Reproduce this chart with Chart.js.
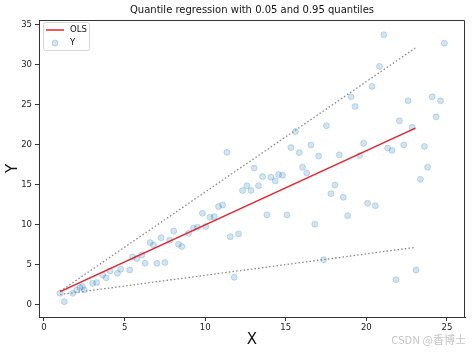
<!DOCTYPE html>
<html>
<head>
<meta charset="utf-8">
<script src="https://cdn.jsdelivr.net/npm/chart.js@4.4.0/dist/chart.umd.min.js"></script>
<style>
  html, body { margin: 0; padding: 0; background: #fff; }
  #wrap { width: 474px; height: 353px; }
</style>
</head>
<body>
<div id="wrap"><canvas id="qr"></canvas></div>
<script>
// scatter data (x, y)
const pointsX = [1.0, 1.26, 1.78, 2.03, 2.24, 2.38, 2.5, 3.02, 3.27, 3.64, 3.85, 4.1, 4.55, 4.76,
  5.32, 5.5, 5.76, 6.07, 6.27, 6.58, 6.79, 7.0, 7.27, 7.5, 7.8, 8.05, 8.34, 8.55, 8.97, 9.27,
  9.52, 9.83, 10.04, 10.3, 10.56, 10.83, 11.08, 11.35, 11.55, 11.8, 12.07, 12.32, 12.59, 12.84,
  13.04, 13.31, 13.56, 13.83, 14.08, 14.35, 14.55, 14.8, 15.07, 15.32, 15.6, 15.84, 16.04, 16.3,
  16.56, 16.8, 17.04, 17.35, 17.52, 17.8, 18.05, 18.32, 18.57, 18.84, 19.05, 19.3, 19.58, 19.83,
  20.08, 20.35, 20.56, 20.81, 21.08, 21.32, 21.59, 21.84, 22.05, 22.32, 22.59, 22.84, 23.08,
  23.35, 23.6, 23.8, 24.08, 24.33, 24.6, 24.84];
const pointsY = [1.46, 0.41, 1.46, 1.87, 2.17, 2.3, 1.87, 2.7, 2.8, 3.75, 3.4, 4.25, 3.95, 4.46,
  4.37, 6.0, 5.8, 6.25, 5.2, 7.8, 7.5, 5.2, 8.4, 5.3, 8.1, 9.25, 7.6, 7.3, 8.96, 9.6,
  9.7, 11.46, 9.8, 10.96, 11.04, 12.3, 12.5, 19.08, 8.54, 3.46, 8.88, 14.3, 14.9, 14.3,
  17.1, 14.9, 16.04, 11.25, 15.96, 15.5, 16.3, 16.2, 11.25, 19.66, 21.67, 19.04, 17.2, 16.5,
  20.0, 10.1, 18.6, 5.66, 22.4, 13.9, 15.0, 18.75, 13.46, 11.16, 26.0, 24.8, 18.66, 20.2,
  12.7, 27.3, 12.4, 29.8, 33.75, 19.6, 19.3, 3.16, 23.0, 20.0, 25.5, 22.2, 4.37,
  15.7, 19.8, 17.2, 26.0, 23.5, 25.5, 32.7];

// fitted lines (end points)
const lineX = [1, 23.04];
const olsY = [1.67, 22.1];
const q05Y = [1.3, 7.2];
const q95Y = [1.7, 32.1];

const xTicks = [0, 5, 10, 15, 20, 25];
const yTicks = [0, 5, 10, 15, 20, 25, 30, 35];

const titleText = 'Quantile regression with 0.05 and 0.95 quantiles';

const zip = (xs, ys) => xs.map((x, i) => ({ x: x, y: ys[i] }));

// title, frame, inside legend, watermark
const decor = {
  id: 'decor',
  afterDraw(chart) {
    const c = chart.ctx;
    const a = chart.chartArea;
    c.save();
    // frame top / right
    c.strokeStyle = '#333';
    c.lineWidth = 1;
    c.beginPath();
    c.moveTo(a.left, a.top + 0.5);
    c.lineTo(a.right - 0.5, a.top + 0.5);
    c.lineTo(a.right - 0.5, a.bottom);
    c.stroke();

    // title
    c.fillStyle = '#111';
    c.font = '10px "DejaVu Sans"';
    c.textAlign = 'center';
    c.textBaseline = 'middle';
    c.fillText(titleText, (a.left + a.right) / 2, 10);

    // legend box
    const bx = a.left + 4, by = a.top + 2, bw = 46, bh = 28;
    c.fillStyle = 'rgba(255,255,255,0.8)';
    c.strokeStyle = '#d6d6d6';
    c.beginPath();
    c.roundRect(bx + 0.5, by + 0.5, bw, bh, 2);
    c.fill();
    c.stroke();
    const ols = chart.data.datasets[0];
    c.strokeStyle = ols.borderColor;
    c.lineWidth = 1.5;
    c.beginPath();
    c.moveTo(bx + 3, by + 8);
    c.lineTo(bx + 21, by + 8);
    c.stroke();
    const pts = chart.data.datasets[3];
    c.fillStyle = pts.backgroundColor;
    c.strokeStyle = pts.borderColor;
    c.lineWidth = 1;
    c.beginPath();
    c.arc(bx + 12, by + 21, 3, 0, Math.PI * 2);
    c.fill();
    c.stroke();
    c.fillStyle = '#111';
    c.font = '8.5px "DejaVu Sans"';
    c.textAlign = 'left';
    c.fillText('OLS', bx + 27, by + 8);
    c.fillText('Y', bx + 27, by + 21);

    // watermark
    c.fillStyle = 'rgba(150,150,150,0.55)';
    c.font = '11px "Noto Sans CJK SC"';
    c.textAlign = 'right';
    c.fillText('CSDN @香博士', 466, 340);
    c.restore();
  }
};

new Chart(document.getElementById('qr'), {
  type: 'scatter',
  data: {
    datasets: [
      {
        label: 'OLS',
        type: 'line',
        data: zip(lineX, olsY),
        borderColor: '#e8202a',
        borderWidth: 1.5,
        pointRadius: 0,
        order: 1
      },
      {
        label: 'q0.05',
        type: 'line',
        data: zip(lineX, q05Y),
        borderColor: '#888',
        borderWidth: 1.3,
        borderDash: [1.5, 2.2],
        pointRadius: 0,
        order: 2
      },
      {
        label: 'q0.95',
        type: 'line',
        data: zip(lineX, q95Y),
        borderColor: '#888',
        borderWidth: 1.3,
        borderDash: [1.5, 2.2],
        pointRadius: 0,
        order: 3
      },
      {
        label: 'Y',
        data: zip(pointsX, pointsY),
        backgroundColor: 'rgba(31,119,180,0.2)',
        borderColor: 'rgba(31,119,180,0.22)',
        borderWidth: 1,
        pointRadius: 3,
        order: 4
      }
    ]
  },
  options: {
    responsive: true,
    maintainAspectRatio: false,
    animation: false,
    layout: { padding: { top: 20, right: 9, left: 0, bottom: 0 } },
    plugins: {
      legend: { display: false },
      tooltip: { enabled: false }
    },
    scales: {
      x: {
        type: 'linear',
        min: -0.31,
        max: 26.12,
        afterFit(s) { s.height = 36; },
        afterBuildTicks(s) { s.ticks = xTicks.map(v => ({ value: v })); },
        grid: { drawOnChartArea: false, tickLength: 4, color: '#333' },
        border: { color: '#333', width: 1 },
        ticks: { padding: 2, color: '#222', font: { family: 'DejaVu Sans', size: 8.5 } },
        title: { display: true, text: 'X', color: '#111', font: { family: 'DejaVu Sans', size: 15 } }
      },
      y: {
        type: 'linear',
        min: -1.5,
        max: 35.6,
        afterFit(s) { s.width = 39; },
        afterBuildTicks(s) { s.ticks = yTicks.map(v => ({ value: v })); },
        grid: { drawOnChartArea: false, tickLength: 4, color: '#333' },
        border: { color: '#333', width: 1 },
        ticks: { padding: 3, color: '#222', font: { family: 'DejaVu Sans', size: 8.5 } },
        title: { display: true, text: 'Y', color: '#111', font: { family: 'DejaVu Sans', size: 15 } }
      }
    }
  },
  plugins: [decor]
});
</script>
</body>
</html>
